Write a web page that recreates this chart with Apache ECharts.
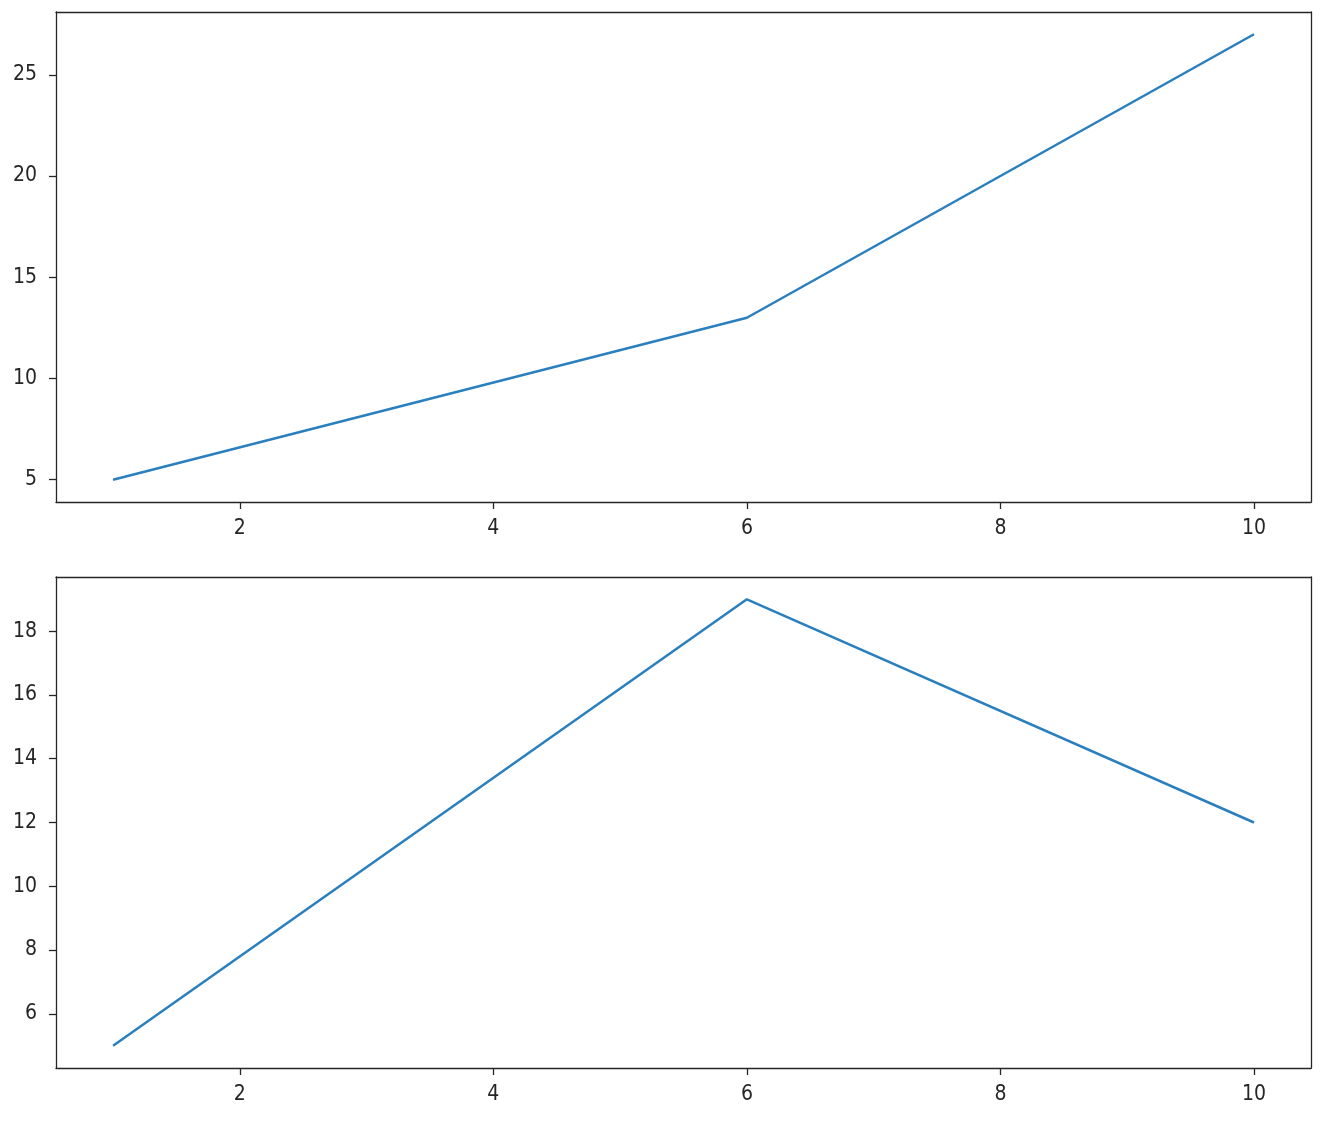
<!DOCTYPE html>
<html><head><meta charset="utf-8">
<script src="https://cdn.jsdelivr.net/npm/echarts@6/dist/echarts.min.js"></script>
<style>html,body{margin:0;padding:0;background:#fff}#c{width:1328px;height:1122px}</style>
</head><body><div id="c"></div>
<script>
const xValues = [1, 6, 10];
const topValues = [5, 13, 27];
const bottomValues = [5, 19, 12];
const xTicks = [2, 4, 6, 8, 10];
const topYTicks = [5, 10, 15, 20, 25];
const bottomYTicks = [6, 8, 10, 12, 14, 16, 18];

function pad(arr, frac) {
  const lo = Math.min(...arr), hi = Math.max(...arr), r = hi - lo;
  return [lo - r * frac, hi + r * frac];
}
const xr = pad(xValues, 0.05), tr = pad(topValues, 0.05), br = pad(bottomValues, 0.05);
const axisCol = '#262626';
const font = {fontFamily: '"DejaVu Sans Condensed", "Liberation Sans", sans-serif', fontSize: 21, color: '#262626'};

function xAxis(gi) {
  return {type: 'value', gridIndex: gi, min: xr[0], max: xr[1],
    axisLine: {show: true, lineStyle: {color: axisCol, width: 1.3}},
    axisTick: {show: true, length: 7, inside: false, customValues: xTicks, lineStyle: {color: axisCol, width: 1.3}},
    axisLabel: Object.assign({customValues: xTicks, margin: 16}, font),
    splitLine: {show: false}};
}
function xTop(gi) {
  return {type: 'value', gridIndex: gi, position: 'top', min: xr[0], max: xr[1],
    axisLine: {show: true, onZero: false, lineStyle: {color: axisCol, width: 1.3}},
    axisTick: {show: false}, axisLabel: {show: false}, splitLine: {show: false}};
}
function yAxis(gi, r, ticks) {
  return {type: 'value', gridIndex: gi, min: r[0], max: r[1],
    axisLine: {show: true, lineStyle: {color: axisCol, width: 1.3}},
    axisTick: {show: true, length: 7, customValues: ticks, lineStyle: {color: axisCol, width: 1.3}},
    axisLabel: Object.assign({customValues: ticks, margin: 19}, font),
    splitLine: {show: false}};
}
function yRight(gi, r) {
  return {type: 'value', gridIndex: gi, position: 'right', min: r[0], max: r[1],
    axisLine: {show: true, onZero: false, lineStyle: {color: axisCol, width: 1.3}},
    axisTick: {show: false}, axisLabel: {show: false}, splitLine: {show: false}};
}

const chart = echarts.init(document.getElementById('c'), null, {renderer: 'canvas'});
chart.setOption({
  animation: false,
  grid: [
    {left: 56, right: 17, top: 12, height: 490},
    {left: 56, right: 17, top: 577, height: 491}
  ],
  xAxis: [xAxis(0), xTop(0), xAxis(1), xTop(1)],
  yAxis: [yAxis(0, tr, topYTicks), yRight(0, tr), yAxis(1, br, bottomYTicks), yRight(1, br)],
  series: [
    {type: 'line', xAxisIndex: 0, yAxisIndex: 0, data: xValues.map((x, i) => [x, topValues[i]]),
     showSymbol: false, lineStyle: {color: '#2a7fbf', width: 2.5}},
    {type: 'line', xAxisIndex: 2, yAxisIndex: 2, data: xValues.map((x, i) => [x, bottomValues[i]]),
     showSymbol: false, lineStyle: {color: '#2a7fbf', width: 2.5}}
  ]
});
</script></body></html>
